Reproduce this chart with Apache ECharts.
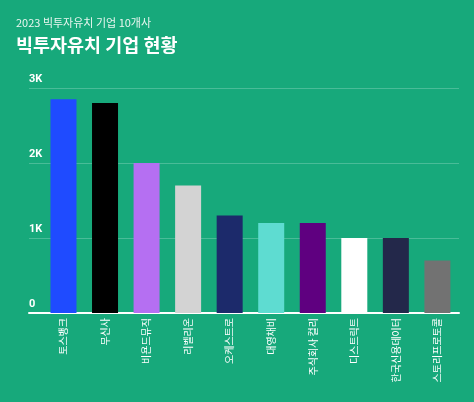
<!DOCTYPE html>
<html lang="ko">
<head>
    <meta charset="UTF-8" />
    <title>빅투자유치 기업 현황</title>
    <script src="https://cdn.jsdelivr.net/npm/echarts@6.0.0/dist/echarts.min.js"></script>
    <style>
        html, body { margin: 0; padding: 0; background: #17a97b; }
        #main { width: 474px; height: 402px; }
    </style>
</head>
<body>
    <div id="main"></div>
    <script>
        // 기업명, 투자유치 금액 (억원 추정)
        var companies = ["토스뱅크", "무신사", "비욘드뮤직", "리벨리온", "오케스트로",
            "대영채비", "주식회사 컬리", "디스트릭트", "한국신용데이터", "스토리프로토콜"];
        var amounts = [2850, 2800, 2000, 1700, 1300, 1200, 1200, 1000, 1000, 700];
        var barColors = ["#1f4bff", "#000000", "#b56ff2", "#d3d3d3", "#1c2a6b",
            "#5edcd1", "#5f0080", "#ffffff", "#23284a", "#727272"];
        var yTicks = [0, 1000, 2000, 3000];

        var positions = companies.map(function (c, i) { return i; });

        var chart = echarts.init(document.getElementById('main'));

        var option = {
            backgroundColor: "#17a97b",
            title: [
                {
                    text: "2023 빅투자유치 기업 10개사",
                    left: 11, top: 12,
                    textStyle: { color: "#eaf6f0", fontSize: 11, fontWeight: "normal", fontFamily: "Noto Sans CJK KR" }
                },
                {
                    text: "빅투자유치 기업 현황",
                    left: 11, top: 31,
                    textStyle: { color: "#ffffff", fontSize: 18.5, fontWeight: "bold", fontFamily: "Noto Sans CJK KR" }
                }
            ],
            grid: { left: 29, right: 15, top: 88, bottom: 89, containLabel: false },
            xAxis: {
                type: "value",
                min: -0.83,
                max: 9.52,
                splitLine: { show: false },
                axisLine: { show: true, onZero: false, lineStyle: { color: "#ffffff", width: 2 } },
                axisTick: { show: false },
                axisLabel: {
                    customValues: positions,
                    rotate: 90,
                    margin: 5,
                    color: "#ffffff",
                    fontSize: 10,
                    fontFamily: "Noto Sans CJK KR",
                    formatter: function (v) { return companies[Math.round(v)]; }
                }
            },
            yAxis: {
                type: "value",
                min: 0,
                max: 3000,
                interval: 1000,
                axisLine: { show: false },
                axisTick: { show: false },
                splitLine: { lineStyle: { color: "rgba(255,255,255,0.22)", width: 1 } },
                axisLabel: {
                    customValues: yTicks,
                    inside: true,
                    margin: 0,
                    verticalAlign: "bottom",
                    padding: [0, 0, 3, 0],
                    color: "#ffffff",
                    fontSize: 11,
                    fontWeight: "bold",
                    fontFamily: "Roboto",
                    formatter: function (v) { return v === 0 ? "0" : (v / 1000) + "K"; }
                }
            },
            series: [
                {
                    type: "bar",
                    barWidth: 26,
                    data: amounts.map(function (v, i) {
                        return { value: [positions[i], v], itemStyle: { color: barColors[i] } };
                    }),
                    z: 1
                }
            ]
        };

        chart.setOption(option);
    </script>
</body>
</html>
